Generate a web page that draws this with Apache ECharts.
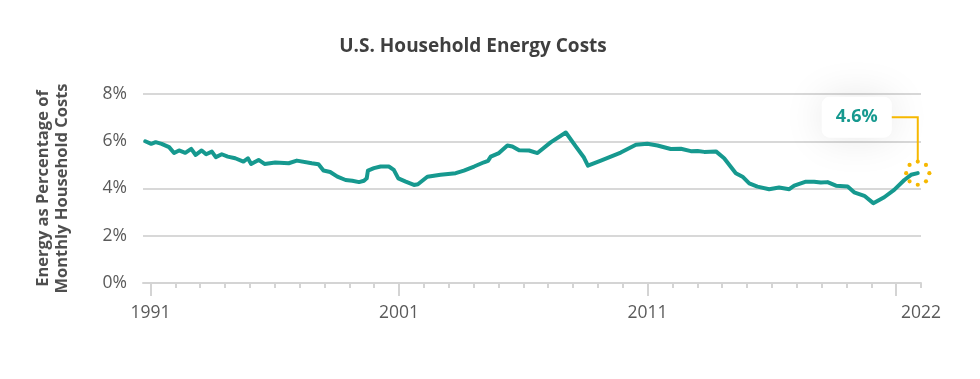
<!DOCTYPE html>
<html><head><meta charset="utf-8">
<script src="https://cdn.jsdelivr.net/npm/echarts@6/dist/echarts.min.js"></script>
<style>html,body{margin:0;padding:0;background:#fff}#c{width:980px;height:379px}</style>
</head><body><div id="c"></div>
<script>
const years = [1990.79,1991.03,1991.21,1991.45,1991.75,1991.95,1992.15,1992.40,1992.64,1992.82,1993.06,1993.24,1993.47,1993.63,1993.87,1994.11,1994.41,1994.74,1994.92,1995.05,1995.35,1995.59,1996.02,1996.56,1996.89,1997.49,1997.76,1997.96,1998.23,1998.52,1998.85,1999.12,1999.39,1999.59,1999.70,1999.75,1999.99,2000.26,2000.59,2000.79,2000.97,2001.27,2001.60,2001.76,2002.14,2002.67,2003.28,2003.61,2004.02,2004.42,2004.58,2004.69,2005.02,2005.36,2005.56,2005.83,2006.23,2006.57,2007.10,2007.71,2008.11,2008.44,2008.60,2009.12,2009.92,2010.53,2010.99,2011.40,2011.93,2012.34,2012.74,2013.01,2013.28,2013.75,2014.08,2014.55,2014.82,2015.09,2015.42,2015.89,2016.29,2016.70,2016.90,2017.37,2017.70,2017.97,2018.24,2018.58,2019.05,2019.31,2019.72,2020.08,2020.52,2020.92,2021.33,2021.60,2021.87];
const values = [6.00,5.89,5.96,5.89,5.75,5.50,5.61,5.51,5.68,5.42,5.61,5.45,5.56,5.33,5.45,5.35,5.28,5.14,5.28,5.04,5.21,5.04,5.10,5.07,5.18,5.07,5.03,4.76,4.70,4.50,4.36,4.33,4.27,4.33,4.43,4.76,4.86,4.93,4.93,4.79,4.43,4.29,4.15,4.18,4.50,4.58,4.65,4.76,4.93,5.11,5.17,5.35,5.50,5.82,5.78,5.62,5.61,5.50,5.95,6.37,5.78,5.31,4.97,5.18,5.52,5.85,5.89,5.82,5.67,5.68,5.58,5.59,5.55,5.57,5.28,4.65,4.50,4.22,4.08,3.97,4.04,3.97,4.12,4.29,4.29,4.25,4.27,4.12,4.08,3.84,3.69,3.38,3.63,3.94,4.36,4.58,4.65];
const xLabelYears = [1991, 2001, 2011, 2022];
const majorTickYears = [1991, 2001, 2011, 2021];
const minorTickYears = [];
for (let y = 1991; y <= 2022; y++) minorTickYears.push(y);
const yTicks = [0, 2, 4, 6, 8];
const titleText = 'U.S. Household Energy Costs';
const yAxisName = 'Energy as Percentage of\nMonthly Household Costs';
const calloutText = '4.6%';

const teal = '#16998f';
const gold = '#f6b800';
const grid = {left: 143, right: 59, top: 94, bottom: 96};
const chart = echarts.init(document.getElementById('c'), null, {renderer: 'canvas'});
const data = years.map((y, i) => [y, values[i]]);
const font = '"Open Sans", sans-serif';
chart.setOption({
  animation: false,
  title: {text: titleText, left: 468, textAlign: 'center', top: 32,
    textStyle: {fontFamily: font, fontWeight: 'bold', fontSize: 19, color: '#3f3f3f'}},
  grid: grid,
  xAxis: [{
    type: 'value', min: 1990.7, max: 2022, position: 'bottom',
    axisLine: {show: true, lineStyle: {color: '#d4d4d4', width: 2}},
    axisTick: {show: true, customValues: minorTickYears, length: 5, lineStyle: {color: '#d4d4d4', width: 2}},
    axisLabel: {customValues: xLabelYears, formatter: v => String(v), margin: 21,
      fontFamily: font, fontSize: 17.5, color: '#5a5a5a'},
    splitLine: {show: false}
  }, {
    type: 'value', min: 1990.7, max: 2022, position: 'bottom',
    axisLine: {show: false},
    axisTick: {show: true, customValues: majorTickYears, length: 13, lineStyle: {color: '#d4d4d4', width: 2}},
    axisLabel: {show: false},
    splitLine: {show: false}
  }],
  yAxis: {
    type: 'value', min: 0, max: 8, interval: 2,
    name: yAxisName, nameLocation: 'middle', nameGap: 71, nameRotate: 90,
    nameTextStyle: {fontFamily: font, fontWeight: 'bold', fontSize: 16.5, color: '#4f4f4f', lineHeight: 19, align: 'center'},
    axisLine: {show: false}, axisTick: {show: false},
    axisLabel: {formatter: v => v + '%', margin: 16, fontFamily: font, fontSize: 17.5, color: '#5a5a5a'},
    splitLine: {lineStyle: {color: '#d8d8d8', width: 2}}
  },
  series: [{
    type: 'line', data: data, showSymbol: false, smooth: false,
    lineStyle: {color: teal, width: 4, join: 'round', cap: 'round'}
  }]
});

const last = data[data.length - 1];
const P = chart.convertToPixel({seriesIndex: 0}, last);
const px = P[0], py = P[1];
const dots = [];
const R = 11.6;
for (let k = 0; k < 8; k++) {
  const a = k * Math.PI / 4;
  dots.push({type: 'circle', shape: {cx: px + R * Math.cos(a), cy: py + R * Math.sin(a), r: 2.1},
    style: {fill: gold}, z: 20});
}
const boxW = 70, boxH = 41;
const boxRight = px - 26, boxMidY = py - 56;
chart.setOption({
  graphic: [
    {type: 'rect', shape: {x: boxRight - boxW, y: boxMidY - boxH / 2, width: boxW, height: boxH, r: 8},
      style: {fill: '#fff', shadowBlur: 40, shadowColor: 'rgba(0,0,0,0.10)'}, z: 10},
    {type: 'text', x: boxRight - boxW / 2, y: boxMidY,
      style: {text: calloutText, fontFamily: font, fontWeight: 'bold', fontSize: 18, fill: teal,
        align: 'center', verticalAlign: 'middle'}, z: 11},
    {type: 'polyline', shape: {points: [[boxRight, boxMidY], [px, boxMidY], [px, py - 13]]},
      style: {stroke: gold, lineWidth: 2, fill: null}, z: 12}
  ].concat(dots)
});
</script></body></html>
